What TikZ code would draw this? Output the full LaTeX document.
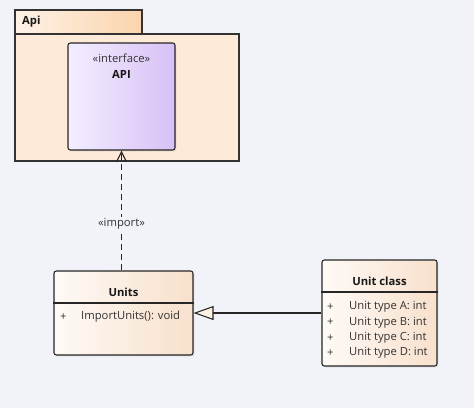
\documentclass[tikz,border=0pt]{standalone}
\usepackage{fontspec}
\setmainfont{Open Sans}
\usetikzlibrary{arrows.meta,shadows}
\definecolor{bgc}{HTML}{F2F3F8}
\definecolor{pkgfill}{HTML}{FDEAD8}
\definecolor{pkgtab}{HTML}{FBD4AC}
\definecolor{ifleft}{HTML}{F4EEFF}
\definecolor{ifright}{HTML}{D7C0F6}
\definecolor{clsleft}{HTML}{FEFAF6}
\definecolor{clsright}{HTML}{F8E0CC}
\definecolor{tipfill}{HTML}{FDF3E3}
\definecolor{txtc}{HTML}{333333}
\tikzset{
  shade/.style={drop shadow={shadow xshift=1.2pt,shadow yshift=-1.2pt,opacity=.2}},
  pkgbody/.style={draw=black!80,line width=0.9pt,fill=pkgfill,shade},
  pkgtabbox/.style={draw=black!80,line width=0.9pt,left color=pkgfill!60!white,right color=pkgtab,shade},
  ifbox/.style={draw=black!85,line width=0.9pt,rounded corners=2pt,left color=ifleft,right color=ifright,shade},
  clsbox/.style={draw=black!85,line width=0.9pt,rounded corners=2pt,left color=clsleft,right color=clsright,shade},
  title/.style={font=\fontsize{9.6}{11}\selectfont\bfseries,text=black!90},
  member/.style={font=\fontsize{9.6}{11}\selectfont,text=txtc,anchor=west,inner sep=0pt},
}
\begin{document}
\begin{tikzpicture}[x=0.03cm,y=-0.03cm]
  \useasboundingbox[fill=bgc] (0,0) rectangle (474,408);
  % package Api
  \path[pkgtabbox] (15,10) rectangle (142,34);
  \path[pkgbody] (15,34) rectangle (239,161);
  \node[title,anchor=west] (pkgname) at (18,22) {Api};
  % interface API
  \node[ifbox,minimum width=3.21cm,minimum height=3.21cm] (api) at (121.5,96.5) {};
  \node[font=\fontsize{9.6}{11}\selectfont,text=txtc] (apister) at (121.5,58) {«interface»};
  \node[title] (apiname) at (121.5,74) {API};
  % class Units
  \node[clsbox,minimum width=4.17cm,minimum height=2.52cm] (units) at (123.5,313) {};
  \node[title] (unitsname) at (123.5,292) {Units};
  \draw[line width=0.9pt,black!85] (units.west |- 0,303) -- (units.east |- 0,303);
  \node[member] (op1sign) at (60,317) {+};
  \node[member] (op1) at (81,317) {ImportUnits(): void};
  % class Unit class
  \node[clsbox,minimum width=3.45cm,minimum height=3.18cm] (uclass) at (379.5,313) {};
  \node[title] (uclassname) at (379.5,281) {Unit class};
  \draw[line width=0.9pt,black!85] (uclass.west |- 0,292) -- (uclass.east |- 0,292);
  \foreach \i/\t in {0/A,1/B,2/C,3/D}{
    \node[member] (sign\t) at (327,307+15.4*\i) {+};
    \node[member] (attr\t) at (349,307+15.4*\i) {Unit type \t: int};
  }
  % connectors
  \draw[line width=0.9pt,black!85,-{Triangle[open,fill=tipfill,length=0.6cm,width=0.42cm]}] (uclass) -- (units);
  \draw[line width=1pt,black!85,dash pattern=on 0.18cm off 0.12cm,-{Straight Barb[length=0.3cm,width=0.3cm]}]
    (units.north -| api.south) -- (api.south)
    node[pos=0.39,fill=bgc,font=\fontsize{9.6}{11}\selectfont,text=txtc,inner sep=1pt] (implbl) {«import»};
\end{tikzpicture}
\end{document}
